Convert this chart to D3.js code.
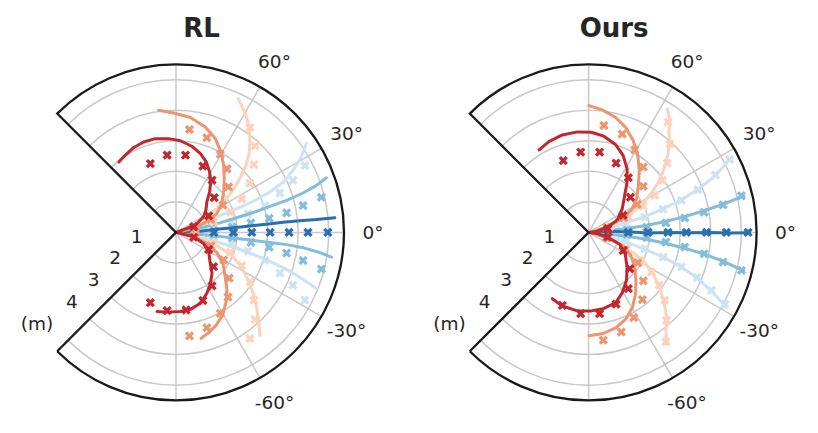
<!DOCTYPE html>
<html>
<head>
<meta charset="utf-8">
<script src="https://cdn.jsdelivr.net/npm/d3@7"></script>
<style>
  body { margin: 0; background: #fff; }
  text { font-family: "DejaVu Sans", sans-serif; fill: #262626; }
</style>
</head>
<body>
<script>
// ---- data (positions in metres, x forward, y left) ----
const thetaTicks = [-90, -60, -30, 0, 30, 60, 90];
const thetaLabels = ["", "-60°", "-30°", "0°", "30°", "60°", ""];
const rTicks = [1, 2, 3, 4, 5];
const rLabels = ["1", "2", "3", "4", "(m)"];
const titles = ["RL", "Ours"];

// RL trajectories
const rlRedUp = [[0,0],[0.36,0.13],[0.69,0.29],[0.90,0.51],[0.98,0.73],[1.01,1.00],[1.10,1.33],[1.14,1.66],[1.10,1.98],[0.99,2.31],[0.80,2.58],[0.52,2.82],[0.14,3.00],[-0.24,3.07],[-0.68,3.07],[-1.06,2.96],[-1.38,2.78],[-1.66,2.53],[-1.87,2.31]];
const rlRedDn = [[0,0],[0.58,-0.14],[0.90,-0.36],[1.07,-0.63],[1.12,-1.01],[1.18,-1.34],[1.12,-1.72],[1.01,-1.99],[0.80,-2.32],[0.47,-2.52],[0.14,-2.59],[-0.29,-2.61],[-0.62,-2.59]];
const rlRedUpX = [[0.58,0.19],[1.07,0.54],[1.25,1.14],[1.18,1.71],[0.88,2.17],[0.31,2.53],[-0.29,2.53],[-0.84,2.25]];
const rlRedDnX = [[0.58,-0.16],[1.07,-0.56],[1.23,-1.12],[1.18,-1.75],[0.88,-2.23],[0.33,-2.54],[-0.29,-2.56],[-0.84,-2.30]];

const rlSalUp = [[0,0],[0.58,0.13],[1.01,0.35],[1.34,0.62],[1.50,0.95],[1.56,1.33],[1.58,1.76],[1.56,2.20],[1.47,2.64],[1.29,3.07],[0.96,3.45],[0.47,3.76],[-0.08,3.91],[-0.57,4.00]];
const rlSalDn = [[0,0],[0.58,-0.14],[1.01,-0.36],[1.34,-0.66],[1.54,-1.03],[1.61,-1.45],[1.67,-1.88],[1.64,-2.27],[1.54,-2.67],[1.32,-3.03],[1.07,-3.28],[0.82,-3.47]];
const rlSalUpX = [[0.63,0.13],[1.14,0.42],[1.54,0.89],[1.72,1.49],[1.67,2.08],[1.45,2.56],[1.01,3.10],[0.44,3.37]];
const rlSalDnX = [[0.63,-0.14],[1.14,-0.44],[1.56,-0.90],[1.74,-1.50],[1.70,-2.12],[1.45,-2.65],[1.01,-3.12],[0.44,-3.39]];

const rlPchUp = [[0,0],[0.40,0.12],[0.84,0.39],[1.27,0.72],[1.63,1.07],[1.90,1.43],[2.11,1.81],[2.29,2.19],[2.39,2.57],[2.42,2.95],[2.40,3.33],[2.33,3.71],[2.20,4.04],[2.04,4.37]];
const rlPchDn = [[0,0],[0.35,-0.08],[0.89,-0.24],[1.38,-0.46],[1.82,-0.75],[2.15,-1.13],[2.36,-1.57],[2.53,-2.00],[2.64,-2.44],[2.70,-2.88],[2.75,-3.37]];
const rlPchUpX = [[0.62,0.09],[1.24,0.34],[1.79,0.66],[2.15,1.10],[2.42,1.61],[2.55,2.22],[2.59,2.83],[2.42,3.44]];
const rlPchDnX = [[0.62,-0.09],[1.24,-0.34],[1.79,-0.64],[2.15,-1.09],[2.42,-1.62],[2.55,-2.22],[2.59,-2.85],[2.42,-3.48]];

const rlPbUp = [[0,0],[0.35,0.12],[0.89,0.34],[1.44,0.56],[1.98,0.77],[2.53,1.02],[3.07,1.32],[3.51,1.64],[3.83,2.03],[4.07,2.41],[4.27,2.92]];
const rlPbDn = [[0,0],[0.35,-0.07],[0.89,-0.19],[1.44,-0.34],[1.98,-0.51],[2.53,-0.72],[3.07,-0.95],[3.62,-1.21],[4.11,-1.51],[4.60,-1.84]];
const rlPbUpX = [[0.62,0.04],[1.22,0.14],[1.82,0.34],[2.36,0.61],[2.91,0.88],[3.40,1.29],[3.83,1.70],[4.22,2.19]];
const rlPbDnX = [[0.62,-0.04],[1.22,-0.15],[1.82,-0.37],[2.36,-0.61],[2.91,-0.92],[3.40,-1.33],[3.83,-1.73],[4.22,-2.22]];

const rlMbUp = [[0,0],[0.35,0.07],[0.89,0.17],[1.44,0.31],[1.98,0.48],[2.53,0.65],[3.07,0.85],[3.62,1.05],[4.16,1.29],[4.60,1.54],[4.92,1.79]];
const rlMbDn = [[0,0],[0.35,-0.02],[0.89,-0.08],[1.44,-0.13],[1.98,-0.20],[2.53,-0.26],[3.07,-0.33],[3.62,-0.40],[4.16,-0.50],[4.65,-0.64],[5.09,-0.81]];
const rlMbUpX = [[0.62,0.01],[1.24,0.07],[1.85,0.17],[2.45,0.31],[3.05,0.46],[3.62,0.64],[4.16,0.88],[4.76,1.15]];
const rlMbDnX = [[0.62,-0.02],[1.24,-0.08],[1.85,-0.17],[2.45,-0.33],[3.05,-0.48],[3.62,-0.68],[4.16,-0.92],[4.76,-1.20]];

const rlDb = [[0.24,0.01],[0.78,0.04],[1.33,0.10],[1.87,0.15],[2.42,0.21],[2.96,0.27],[3.51,0.33],[4.05,0.38],[4.60,0.42],[5.20,0.48]];
const rlDbX = [[0.62,0],[1.24,0],[1.88,0],[2.48,0],[3.08,0],[3.70,0],[4.32,0],[4.97,0]];

// Ours trajectories
const ourRedUp = [[0,0],[0.28,0.04],[0.61,0.17],[0.94,0.41],[1.10,0.77],[1.18,1.21],[1.26,1.64],[1.26,2.08],[1.13,2.52],[0.88,2.88],[0.50,3.15],[0.09,3.28],[-0.37,3.29],[-0.86,3.19],[-1.30,2.97],[-1.62,2.70]];
const ourRedDn = [[0,0],[0.28,-0.04],[0.61,-0.15],[1.02,-0.39],[1.20,-0.72],[1.26,-1.13],[1.24,-1.57],[1.10,-1.98],[0.88,-2.31],[0.50,-2.49],[0.09,-2.57],[-0.37,-2.57],[-0.86,-2.41],[-1.19,-2.17]];
const ourRedUpX = [[0.63,0.12],[1.13,0.56],[1.37,1.15],[1.30,1.79],[0.90,2.27],[0.36,2.63],[-0.26,2.63],[-0.83,2.35]];
const ourRedDnX = [[0.63,-0.15],[1.13,-0.59],[1.35,-1.19],[1.30,-1.84],[0.90,-2.35],[0.36,-2.66],[-0.26,-2.66],[-0.86,-2.39]];

const ourSalUp = [[0,0],[0.28,0.07],[0.72,0.23],[1.15,0.50],[1.43,0.77],[1.57,1.10],[1.63,1.54],[1.66,2.03],[1.61,2.52],[1.46,3.01],[1.21,3.44],[0.88,3.77],[0.45,4.01],[0.01,4.15]];
const ourSalDn = [[0,0],[0.28,-0.07],[0.72,-0.23],[1.10,-0.42],[1.37,-0.72],[1.50,-1.11],[1.55,-1.55],[1.54,-2.00],[1.44,-2.44],[1.23,-2.82],[0.90,-3.12],[0.48,-3.31],[0.01,-3.38]];
const ourSalUpX = [[0.59,0.17],[1.15,0.48],[1.59,0.92],[1.79,1.51],[1.79,2.14],[1.51,2.70],[1.10,3.22],[0.50,3.50]];
const ourSalDnX = [[0.59,-0.17],[1.18,-0.57],[1.61,-1.00],[1.79,-1.59],[1.76,-2.20],[1.48,-2.79],[1.07,-3.26],[0.48,-3.53]];

const ourPchUp = [[0,0],[0.48,0.14],[1.02,0.39],[1.51,0.70],[1.84,1.02],[2.11,1.37],[2.33,1.72],[2.49,2.14],[2.59,2.55],[2.65,2.92],[2.63,3.31],[2.66,3.68],[2.58,4.04]];
const ourPchDn = [[0,0],[0.48,-0.13],[1.02,-0.39],[1.51,-0.70],[1.87,-1.02],[2.14,-1.41],[2.33,-1.84],[2.47,-2.28],[2.55,-2.75],[2.53,-3.20],[2.55,-3.64]];
const ourPchUpX = [[0.68,0.17],[1.30,0.50],[1.79,0.85],[2.17,1.21],[2.42,1.70],[2.57,2.27],[2.66,2.90],[2.60,3.61]];
const ourPchDnX = [[0.64,-0.17],[1.24,-0.53],[1.70,-0.92],[2.06,-1.30],[2.31,-1.73],[2.49,-2.22],[2.55,-2.88],[2.53,-3.58]];

const ourPbUp = [[0,0],[0.48,0.09],[1.13,0.28],[1.79,0.50],[2.44,0.77],[3.09,1.10],[3.58,1.41],[4.02,1.75],[4.35,2.08],[4.64,2.42]];
const ourPbDn = [[0,0],[0.48,-0.09],[1.13,-0.28],[1.79,-0.53],[2.44,-0.81],[3.04,-1.13],[3.58,-1.51],[4.02,-1.92],[4.51,-2.44]];
const ourPbUpX = [[0.61,0.10],[1.22,0.28],[1.84,0.50],[2.44,0.76],[3.04,1.05],[3.58,1.39],[4.15,1.88],[4.62,2.39]];
const ourPbDnX = [[0.61,-0.10],[1.22,-0.28],[1.84,-0.53],[2.44,-0.81],[3.04,-1.13],[3.55,-1.48],[4.02,-1.90],[4.46,-2.35]];

const ourMbUp = [[0,0],[0.48,0.04],[1.13,0.11],[1.79,0.21],[2.44,0.34],[3.09,0.50],[3.75,0.70],[4.40,0.92],[5.08,1.20]];
const ourMbDn = [[0,0],[0.48,-0.04],[1.13,-0.11],[1.79,-0.21],[2.44,-0.34],[3.09,-0.50],[3.75,-0.70],[4.40,-0.94],[5.08,-1.26]];
const ourMbUpX = [[0.64,0.01],[1.26,0.07],[1.90,0.17],[2.53,0.31],[3.15,0.47],[3.78,0.66],[4.40,0.90],[5.00,1.20]];
const ourMbDnX = [[0.64,-0.01],[1.26,-0.07],[1.90,-0.17],[2.53,-0.32],[3.15,-0.48],[3.78,-0.70],[4.40,-0.97],[5.00,-1.24]];

const ourDb = [[0.30,0.02],[0.70,0.04],[1.35,0.01],[2.00,-0.02],[2.66,0.0],[3.31,-0.01],[3.97,0.0],[4.62,-0.02],[5.27,-0.01]];
const ourDbX = [[0.65,0],[1.30,0],[1.95,0],[2.60,0],[3.20,0],[3.86,0],[4.51,0],[5.22,0]];

// colours per curvature group
const cRed = "#c2272d", cSal = "#ed9470", cPch = "#fbd3bd",
      cPb = "#cde3f0", cMb = "#84bcdb", cDb = "#2a6fb0";

const rlSeries = [
  [rlPbUp, rlPbUpX, cPb], [rlPbDn, rlPbDnX, cPb],
  [rlMbUp, rlMbUpX, cMb], [rlMbDn, rlMbDnX, cMb],
  [rlDb, rlDbX, cDb],
  [rlPchUp, rlPchUpX, cPch], [rlPchDn, rlPchDnX, cPch],
  [rlSalUp, rlSalUpX, cSal], [rlSalDn, rlSalDnX, cSal],
  [rlRedUp, rlRedUpX, cRed], [rlRedDn, rlRedDnX, cRed]
];
const ourSeries = [
  [ourPbUp, ourPbUpX, cPb], [ourPbDn, ourPbDnX, cPb],
  [ourMbUp, ourMbUpX, cMb], [ourMbDn, ourMbDnX, cMb],
  [ourDb, ourDbX, cDb],
  [ourPchUp, ourPchUpX, cPch], [ourPchDn, ourPchDnX, cPch],
  [ourSalUp, ourSalUpX, cSal], [ourSalDn, ourSalDnX, cSal],
  [ourRedUp, ourRedUpX, cRed], [ourRedDn, ourRedDnX, cRed]
];

// ---- layout ----
var width = 818, height = 433;
var rMax = 5.5, outer = 168;
var thetaMin = -135, thetaMax = 135;

var svg = d3.select("body").append("svg")
    .attr("width", width)
    .attr("height", height);

var r = d3.scaleLinear().domain([0, rMax]).range([0, outer]);
var rad = d => d * Math.PI / 180;

var marker = d3.symbol().type(d3.symbolCross).size(54);

function drawPolar(cx, cy, title, series) {
  var g = svg.append("g").attr("transform", "translate(" + cx + "," + cy + ")");
  // x forward (right), y left (up)
  var x = d3.scaleLinear().domain([-rMax, rMax]).range([-outer, outer]);
  var y = d3.scaleLinear().domain([-rMax, rMax]).range([outer, -outer]);

  // rings
  var arcGrid = d3.arc()
      .innerRadius(d => r(d)).outerRadius(d => r(d))
      .startAngle(rad(90 - thetaMax)).endAngle(rad(90 - thetaMin));
  g.selectAll(".ring").data(rTicks).enter().append("path")
      .attr("d", arcGrid)
      .attr("fill", "none").attr("stroke", "#c8c8c8").attr("stroke-width", 1.5);

  // spokes
  g.selectAll(".spoke").data(thetaTicks).enter().append("line")
      .attr("x1", 0).attr("y1", 0)
      .attr("x2", d => r(rMax) * Math.cos(rad(d)))
      .attr("y2", d => -r(rMax) * Math.sin(rad(d)))
      .attr("stroke", "#c8c8c8").attr("stroke-width", 1.5);

  // trajectories + reference markers
  var line = d3.line().x(d => x(d[0])).y(d => y(d[1]));
  series.forEach(function(s) {
    g.append("path").datum(s[0])
      .attr("d", line)
      .attr("fill", "none").attr("stroke", s[2])
      .attr("stroke-width", 3).attr("stroke-linejoin", "round").attr("stroke-linecap", "round");
    g.selectAll(null).data(s[1]).enter().append("path")
      .attr("d", marker)
      .attr("transform", d => "translate(" + x(d[0]) + "," + y(d[1]) + ") rotate(45)")
      .attr("fill", s[2]);
  });

  // frame
  var frame = d3.path();
  frame.moveTo(r(rMax) * Math.cos(rad(thetaMin)), -r(rMax) * Math.sin(rad(thetaMin)));
  frame.lineTo(0, 0);
  frame.lineTo(r(rMax) * Math.cos(rad(thetaMax)), -r(rMax) * Math.sin(rad(thetaMax)));
  frame.arc(0, 0, r(rMax), -rad(thetaMax), -rad(thetaMin), false);
  g.append("path").attr("d", frame.toString())
      .attr("fill", "none").attr("stroke", "#1a1a1a").attr("stroke-width", 2.3)
      .attr("stroke-linejoin", "miter");

  // angle labels
  g.selectAll(".tlab").data(thetaTicks).enter().append("text")
      .attr("x", d => (r(rMax) + 29) * Math.cos(rad(d)))
      .attr("y", d => -(r(rMax) + 29) * Math.sin(rad(d)))
      .attr("text-anchor", "middle").attr("dominant-baseline", "central")
      .style("font-size", "18.5px")
      .text((d, i) => thetaLabels[i]);

  // radial labels along the lower edge
  var ux = Math.cos(rad(thetaMin)), uy = -Math.sin(rad(thetaMin));
  g.selectAll(".rlab").data(rTicks).enter().append("text")
      .attr("x", (d, i) => {
        var a = r(d) + (i === 4 ? 10 : 0), p = (i === 4 ? 34 : 25);
        return a * ux - p * Math.SQRT1_2;
      })
      .attr("y", (d, i) => {
        var a = r(d) + (i === 4 ? 10 : 0), p = (i === 4 ? 34 : 25);
        return a * uy - p * Math.SQRT1_2;
      })
      .attr("text-anchor", "middle").attr("dominant-baseline", "central")
      .style("font-size", "18.5px")
      .text((d, i) => rLabels[i]);

  // title
  svg.append("text")
      .attr("x", cx + 25.5).attr("y", 37)
      .attr("text-anchor", "middle")
      .style("font-size", "26px").style("font-weight", "bold")
      .text(title);
}

drawPolar(176, 232.4, titles[0], rlSeries);
drawPolar(588.6, 232.4, titles[1], ourSeries);
</script>
</body>
</html>
